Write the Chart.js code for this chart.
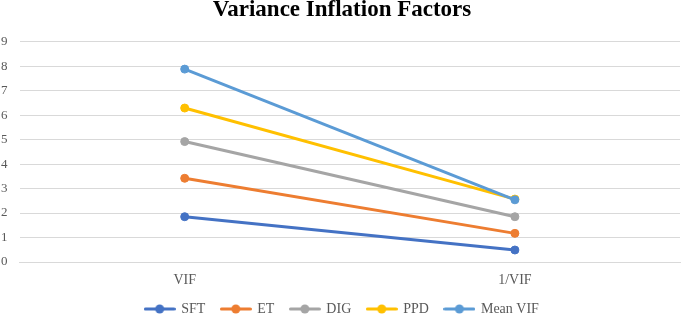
<!DOCTYPE html>
<html>
<head>
<meta charset="utf-8">
<script src="https://cdn.jsdelivr.net/npm/chart.js@4"></script>
<style>
  html, body { margin: 0; padding: 0; background: #fff; }
  #wrap { width: 685px; height: 315px; }
</style>
</head>
<body>
<div id="wrap"><canvas id="vif-chart"></canvas></div>
<script>
var categories = ['VIF', '1/VIF'];
var seriesNames = ['SFT', 'ET', 'DIG', 'PPD', 'Mean VIF'];
var seriesColors = ['#4472C4', '#ED7D31', '#A5A5A5', '#FFC000', '#5B9BD5'];
var sftValues = [1.85, 0.49];
var etValues = [3.42, 1.17];
var digValues = [4.92, 1.85];
var ppdValues = [6.29, 2.57];
var meanVifValues = [7.88, 2.54];
var yTicks = [0, 1, 2, 3, 4, 5, 6, 7, 8, 9];

var seriesValues = [sftValues, etValues, digValues, ppdValues, meanVifValues];

// legend marker: short line with a dot in the middle, like Excel
function makeMarker(color) {
    var c = document.createElement('canvas');
    c.width = 32;
    c.height = 10;
    var g = c.getContext('2d');
    g.strokeStyle = color;
    g.lineWidth = 3;
    g.lineCap = 'round';
    g.beginPath();
    g.moveTo(1.5, 5);
    g.lineTo(30.5, 5);
    g.stroke();
    g.fillStyle = color;
    g.beginPath();
    g.arc(16, 5, 4.5, 0, Math.PI * 2);
    g.fill();
    return c;
}

var datasets = seriesNames.map(function (name, i) {
    return {
        label: name,
        data: seriesValues[i],
        borderColor: seriesColors[i],
        backgroundColor: seriesColors[i],
        borderWidth: 3,
        pointRadius: 4,
        pointBorderWidth: 1,
        pointHoverRadius: 4,
        fill: false,
        order: -i
    };
});

var serif = '"Liberation Serif", "Times New Roman", serif';

new Chart(document.getElementById('vif-chart').getContext('2d'), {
    type: 'line',
    data: {
        labels: categories,
        datasets: datasets
    },
    options: {
        responsive: true,
        maintainAspectRatio: false,
        animation: false,
        layout: { padding: { left: 0, right: 1, top: 0, bottom: 0 } },
        plugins: {
            title: {
                display: true,
                text: 'Variance Inflation Factors',
                color: '#000',
                font: { family: serif, size: 23, weight: 'bold', lineHeight: 0.9 },
                padding: { top: 0, bottom: 21 }
            },
            legend: {
                position: 'bottom',
                maxHeight: 29,
                labels: {
                    color: '#595959',
                    font: { family: serif, size: 14 },
                    usePointStyle: true,
                    pointStyleWidth: 29,
                    padding: 16,
                    generateLabels: function (chart) {
                        return chart.data.datasets.map(function (ds, i) {
                            return {
                                text: ds.label,
                                pointStyle: makeMarker(ds.borderColor),
                                fillStyle: ds.borderColor,
                                strokeStyle: ds.borderColor,
                                fontColor: '#595959',
                                lineWidth: 0,
                                hidden: false,
                                datasetIndex: i
                            };
                        });
                    }
                }
            },
            tooltip: { enabled: false }
        },
        scales: {
            x: {
                offset: true,
                grid: { display: false, drawTicks: false },
                border: { display: true, color: '#d9d9d9' },
                afterFit: function (axis) { axis.height = 24; },
                ticks: {
                    color: '#595959',
                    font: { family: serif, size: 14 },
                    padding: 10
                }
            },
            y: {
                min: 0,
                max: 9,
                afterBuildTicks: function (axis) {
                    axis.ticks = yTicks.map(function (v) { return { value: v }; });
                },
                afterFit: function (axis) { axis.width = 19.6; },
                grid: { color: '#d9d9d9', drawTicks: false },
                border: { display: false },
                ticks: {
                    color: '#595959',
                    font: { family: serif, size: 13 },
                    padding: 12
                }
            }
        }
    }
});
</script>
</body>
</html>
